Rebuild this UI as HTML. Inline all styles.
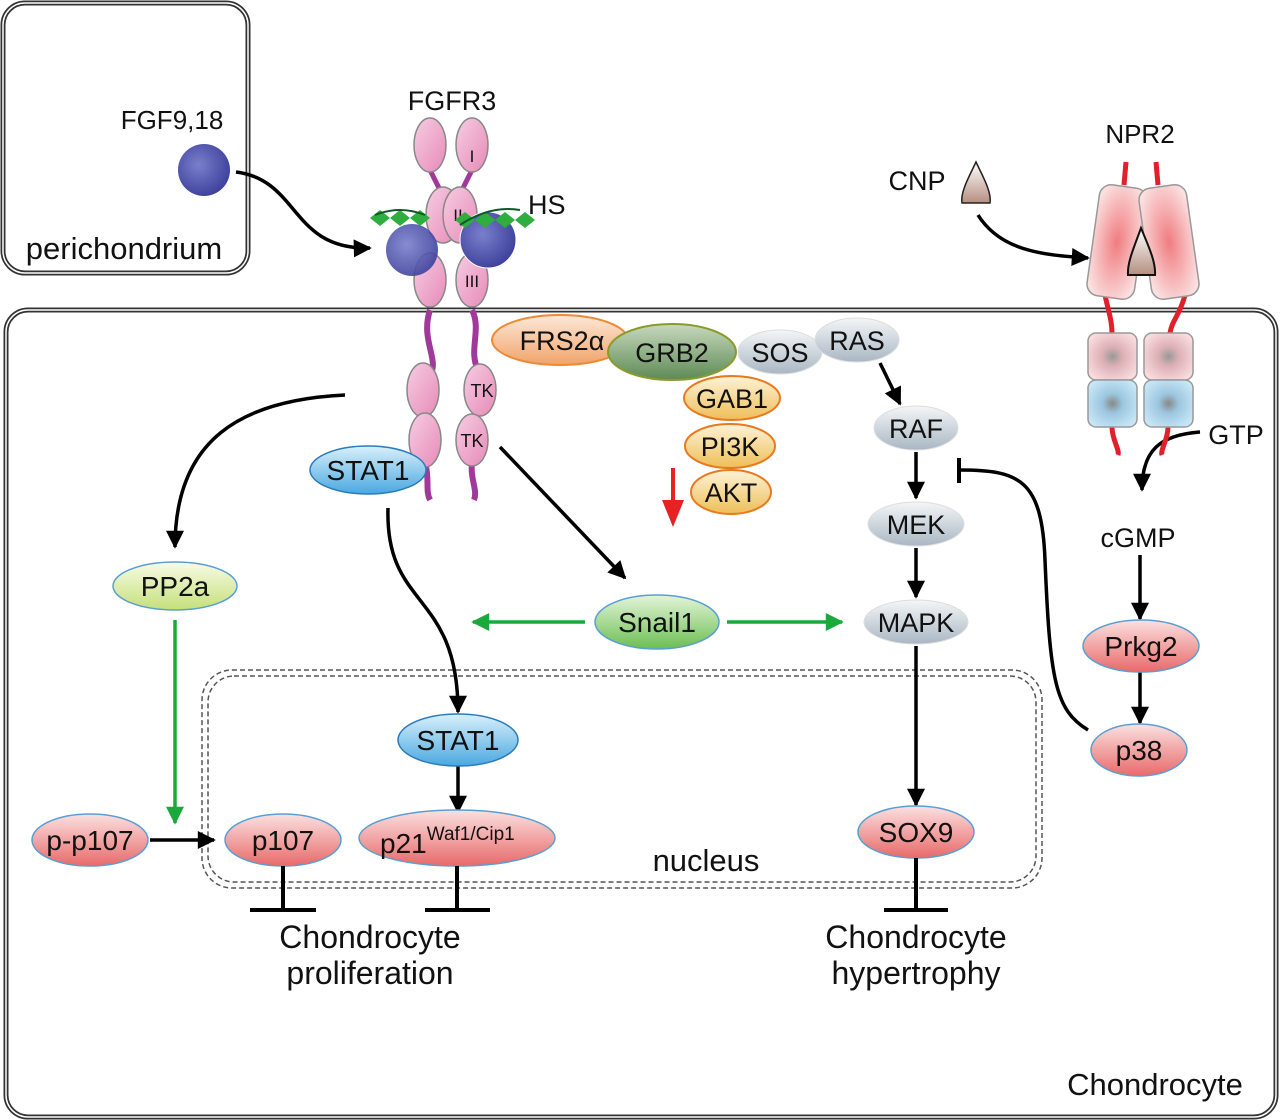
<!DOCTYPE html>
<html><head><meta charset="utf-8"><style>
html,body{margin:0;padding:0;background:#fff;}
svg{display:block;}
text{font-family:"Liberation Sans",sans-serif;fill:#111;}
</style></head><body>
<svg width="1280" height="1120" viewBox="0 0 1280 1120" xmlns="http://www.w3.org/2000/svg">
<defs>
<linearGradient id="gr" x1="0" y1="0" x2="0" y2="1"><stop offset="0" stop-color="#fbe0e0"/><stop offset="1" stop-color="#e86a6a"/></linearGradient>
<linearGradient id="gb" x1="0" y1="0" x2="0" y2="1"><stop offset="0" stop-color="#d8f0fb"/><stop offset="1" stop-color="#4aa8e0"/></linearGradient>
<linearGradient id="gg" x1="0" y1="0" x2="0" y2="1"><stop offset="0" stop-color="#f4f6f8"/><stop offset="1" stop-color="#a9b7c3"/></linearGradient>
<linearGradient id="gy" x1="0" y1="0" x2="0" y2="1"><stop offset="0" stop-color="#fdf3d6"/><stop offset="1" stop-color="#eebe58"/></linearGradient>
<linearGradient id="go" x1="0" y1="0" x2="0" y2="1"><stop offset="0" stop-color="#fde8d8"/><stop offset="1" stop-color="#f0a36a"/></linearGradient>
<linearGradient id="ggr" x1="0" y1="0" x2="0" y2="1"><stop offset="0" stop-color="#c7d9bd"/><stop offset="1" stop-color="#5d8a55"/></linearGradient>
<linearGradient id="gsn" x1="0" y1="0" x2="0" y2="1"><stop offset="0" stop-color="#e3f5d8"/><stop offset="1" stop-color="#6cbf53"/></linearGradient>
<linearGradient id="gpp" x1="0" y1="0" x2="0" y2="1"><stop offset="0" stop-color="#f8fbe6"/><stop offset="1" stop-color="#c5e07a"/></linearGradient>
<linearGradient id="gp" x1="0" y1="0" x2="1" y2="1"><stop offset="0" stop-color="#f6cde2"/><stop offset="1" stop-color="#e78ab8"/></linearGradient>
<linearGradient id="gcnp" x1="0" y1="0" x2="0" y2="1"><stop offset="0" stop-color="#fff"/><stop offset="1" stop-color="#b58e80"/></linearGradient>
<radialGradient id="ball" cx="0.4" cy="0.4" r="0.6"><stop offset="0" stop-color="#7a7fcc"/><stop offset="1" stop-color="#40449e"/></radialGradient>
<radialGradient id="npr" cx="0.5" cy="0.5" r="0.6"><stop offset="0" stop-color="#f07c80"/><stop offset="1" stop-color="#fbe0e0"/></radialGradient>
<radialGradient id="bp" cx="0.5" cy="0.5" r="0.6"><stop offset="0" stop-color="#999"/><stop offset="0.35" stop-color="#dcb0b4"/><stop offset="1" stop-color="#fbdde0"/></radialGradient>
<radialGradient id="bbl" cx="0.5" cy="0.5" r="0.6"><stop offset="0" stop-color="#888"/><stop offset="0.35" stop-color="#9cc6df"/><stop offset="1" stop-color="#c9e8f8"/></radialGradient>
<marker id="ab" viewBox="0 0 10 10" refX="9" refY="5" markerWidth="22" markerHeight="18" orient="auto" markerUnits="userSpaceOnUse"><path d="M0,0 L10,5 L0,10 Z" fill="#000"/></marker>
<marker id="ag" viewBox="0 0 10 10" refX="9" refY="5" markerWidth="22" markerHeight="18" orient="auto" markerUnits="userSpaceOnUse"><path d="M0,0 L10,5 L0,10 Z" fill="#1aaa3c"/></marker>
</defs>

<rect x="3" y="3" width="245" height="270" rx="22" fill="none" stroke="#333" stroke-width="5"/>
<rect x="3" y="3" width="245" height="270" rx="22" fill="none" stroke="#fff" stroke-width="1.5"/>
<rect x="6" y="310" width="1270" height="807" rx="22" fill="none" stroke="#333" stroke-width="5"/>
<rect x="6" y="310" width="1270" height="807" rx="22" fill="none" stroke="#fff" stroke-width="1.5"/>
<text x="124" y="259" font-size="31" text-anchor="middle">perichondrium</text>
<text x="1155" y="1095" font-size="31" text-anchor="middle">Chondrocyte</text>

<rect x="202" y="670" width="840" height="218" rx="30" fill="none" stroke="#555" stroke-width="1.5" stroke-dasharray="5,3"/>
<rect x="208" y="676" width="828" height="206" rx="26" fill="none" stroke="#555" stroke-width="1.5" stroke-dasharray="5,3"/>
<text x="706" y="871" font-size="31" text-anchor="middle">nucleus</text>

<text x="172" y="129" font-size="26" text-anchor="middle">FGF9,18</text>
<circle cx="204" cy="170" r="26" fill="url(#ball)"/>
<path d="M236,172 C300,180 290,250 370,248" fill="none" stroke="#000" stroke-width="3.5" marker-end="url(#ab)"/>

<text x="452" y="110" font-size="27" text-anchor="middle">FGFR3</text>
<path d="M430,310 C420,340 440,360 430,375 M423,410 L425,418 M425,462 C430,480 425,490 430,500" fill="none" stroke="#a0399a" stroke-width="6"/>
<path d="M472,310 C482,330 468,350 478,370 M478,408 L472,420 M472,462 C470,480 478,490 474,500" fill="none" stroke="#a0399a" stroke-width="6"/>
<path d="M430,170 L440,190 M472,170 L462,190" stroke="#a0399a" stroke-width="5"/>
<g stroke="#888" stroke-width="1.5" fill="url(#gp)">
<ellipse cx="430" cy="145" rx="16" ry="27"/>
<ellipse cx="472" cy="145" rx="16" ry="27"/>
<ellipse cx="430" cy="280" rx="16" ry="27"/>
<ellipse cx="472" cy="280" rx="16" ry="27"/>
<ellipse cx="443" cy="215" rx="17" ry="28"/>
<ellipse cx="460" cy="215" rx="17" ry="28"/>
<ellipse cx="423" cy="390" rx="16" ry="27"/>
<ellipse cx="480" cy="390" rx="16" ry="26"/>
<ellipse cx="425" cy="440" rx="16" ry="27"/>
<ellipse cx="472" cy="440" rx="16" ry="26"/>
</g>
<text x="472" y="162" font-size="17" text-anchor="middle">I</text>
<text x="458" y="221" font-size="17" text-anchor="middle">II</text>
<text x="472" y="287" font-size="17" text-anchor="middle">III</text>
<text x="482" y="397" font-size="18" text-anchor="middle">TK</text>
<text x="472" y="447" font-size="18" text-anchor="middle">TK</text>
<circle cx="412" cy="250" r="26" fill="url(#ball)" opacity="0.9"/>
<circle cx="488" cy="240" r="28" fill="url(#ball)" stroke="#fff" stroke-width="1"/>
<g fill="#2fae3f">
<path d="M370,218 l10,-8 l10,8 l10,-8 l10,8 l10,-8 l10,8 l-10,8 l-10,-8 l-10,8 l-10,-8 l-10,8 l-10,-8z"/>
<path d="M455,220 l10,-8 l10,8 l10,-8 l10,8 l10,-8 l10,8 l10,-8 l10,8 l-10,8 l-10,-8 l-10,8 l-10,-8 l-10,8 l-10,-8 l-10,8z"/>
</g>
<path d="M375,215 Q400,205 425,215 M460,225 Q490,205 520,210" fill="none" stroke="#0b5b2a" stroke-width="2"/>
<text x="528" y="214" font-size="27">HS</text>

<ellipse cx="560" cy="340" rx="68" ry="25" fill="url(#go)" stroke="#ee8a33" stroke-width="2"/>
<text x="562" y="350" font-size="27" text-anchor="middle">FRS2α</text>
<ellipse cx="780" cy="352" rx="42" ry="22" fill="url(#gg)" stroke="#ddd" stroke-width="1"/>
<text x="780" y="362" font-size="27" text-anchor="middle">SOS</text>
<ellipse cx="672" cy="352" rx="64" ry="28" fill="url(#ggr)" stroke="#8a9b2a" stroke-width="2"/>
<text x="672" y="362" font-size="27" text-anchor="middle">GRB2</text>
<ellipse cx="857" cy="340" rx="42" ry="22" fill="url(#gg)" stroke="#ddd" stroke-width="1"/>
<text x="857" y="350" font-size="27" text-anchor="middle">RAS</text>
<g stroke="#e9791f" stroke-width="2" fill="url(#gy)">
<ellipse cx="732" cy="398" rx="48" ry="22"/>
<ellipse cx="730" cy="446" rx="45" ry="22"/>
<ellipse cx="731" cy="492" rx="40" ry="22"/>
</g>
<text x="732" y="408" font-size="27" text-anchor="middle">GAB1</text>
<text x="730" y="456" font-size="27" text-anchor="middle">PI3K</text>
<text x="731" y="502" font-size="27" text-anchor="middle">AKT</text>
<path d="M673,468 L673,505" stroke="#e62222" stroke-width="4"/>
<path d="M662,500 L684,500 L673,527 Z" fill="#e62222"/>

<g fill="url(#gg)" stroke="#ddd" stroke-width="1">
<ellipse cx="916" cy="428" rx="42" ry="22"/>
<ellipse cx="916" cy="524" rx="48" ry="22"/>
<ellipse cx="916" cy="622" rx="52" ry="22"/>
</g>
<text x="916" y="438" font-size="27" text-anchor="middle">RAF</text>
<text x="916" y="534" font-size="27" text-anchor="middle">MEK</text>
<text x="916" y="632" font-size="27" text-anchor="middle">MAPK</text>
<g stroke="#000" stroke-width="3.5" fill="none" marker-end="url(#ab)">
<path d="M880,363 L900,404"/>
<path d="M916,452 L916,498"/>
<path d="M916,548 L916,597"/>
<path d="M916,646 L916,805"/>
<path d="M345,395 C240,400 175,440 175,547"/>
<path d="M388,508 C385,610 458,590 458,712"/>
<path d="M500,447 L625,578"/>
<path d="M458,766 L458,812"/>
<path d="M150,840 L214,840"/>
<path d="M978,215 C1000,250 1040,255 1088,258"/>
<path d="M1200,432 C1160,435 1142,450 1142,490"/>
<path d="M1140,555 L1140,619"/>
<path d="M1140,672 L1140,723"/>
</g>
<path d="M1088,730 C1055,710 1050,680 1045,560 C1042,480 1020,470 960,470" fill="none" stroke="#000" stroke-width="3.5"/>
<path d="M959,458 L959,483" stroke="#000" stroke-width="4"/>

<g stroke="#1aaa3c" stroke-width="3.5" fill="none" marker-end="url(#ag)">
<path d="M585,622 L473,622"/>
<path d="M727,622 L842,622"/>
<path d="M175,620 L175,823"/>
</g>

<ellipse cx="368" cy="470" rx="58" ry="24" fill="url(#gb)" stroke="#2b7bbd" stroke-width="1.5"/>
<text x="368" y="480" font-size="28" text-anchor="middle">STAT1</text>
<ellipse cx="458" cy="740" rx="60" ry="26" fill="url(#gb)" stroke="#2b7bbd" stroke-width="1.5"/>
<text x="458" y="750" font-size="28" text-anchor="middle">STAT1</text>
<ellipse cx="175" cy="586" rx="62" ry="24" fill="url(#gpp)" stroke="#5a9fd4" stroke-width="1.5"/>
<text x="175" y="596" font-size="28" text-anchor="middle">PP2a</text>
<ellipse cx="657" cy="622" rx="62" ry="27" fill="url(#gsn)" stroke="#5a9fd4" stroke-width="1.5"/>
<text x="657" y="632" font-size="28" text-anchor="middle">Snail1</text>
<g fill="url(#gr)" stroke="#5a9fd4" stroke-width="1.5">
<ellipse cx="90" cy="840" rx="58" ry="26"/>
<ellipse cx="283" cy="840" rx="58" ry="26"/>
<ellipse cx="457" cy="838" rx="98" ry="28"/>
<ellipse cx="916" cy="832" rx="58" ry="26"/>
<ellipse cx="1141" cy="646" rx="58" ry="26"/>
<ellipse cx="1139" cy="750" rx="48" ry="26"/>
</g>
<text x="90" y="850" font-size="28" text-anchor="middle">p-p107</text>
<text x="283" y="850" font-size="28" text-anchor="middle">p107</text>
<text x="380" y="853" font-size="28">p21<tspan font-size="19" dy="-13">Waf1/Cip1</tspan></text>
<text x="916" y="842" font-size="28" text-anchor="middle">SOX9</text>
<text x="1141" y="656" font-size="28" text-anchor="middle">Prkg2</text>
<text x="1139" y="760" font-size="28" text-anchor="middle">p38</text>

<g stroke="#000" stroke-width="4">
<path d="M283,866 L283,910 M250,910 L316,910"/>
<path d="M457,866 L457,910 M425,910 L490,910"/>
<path d="M916,858 L916,910 M884,910 L948,910"/>
</g>
<text x="370" y="948" font-size="32" text-anchor="middle">Chondrocyte</text>
<text x="370" y="984" font-size="32" text-anchor="middle">proliferation</text>
<text x="916" y="948" font-size="32" text-anchor="middle">Chondrocyte</text>
<text x="916" y="984" font-size="32" text-anchor="middle">hypertrophy</text>

<text x="1140" y="143" font-size="26" text-anchor="middle">NPR2</text>
<text x="917" y="190" font-size="27" text-anchor="middle">CNP</text>
<path d="M976,162 C970,175 960,192 962,203 L990,203 C992,192 982,175 976,162 Z" fill="url(#gcnp)" stroke="#222" stroke-width="1.5"/>
<g stroke="#e0202a" stroke-width="5" fill="none">
<path d="M1126,162 L1124,185 M1156,162 L1158,185"/>
<path d="M1105,295 C1108,310 1112,320 1112,333 M1185,295 C1180,315 1172,320 1170,333"/>
<path d="M1112,427 C1112,440 1120,450 1118,455 M1168,427 C1168,440 1160,450 1162,455"/>
</g>
<rect x="1093" y="186" width="48" height="112" rx="12" fill="url(#npr)" stroke="#999" stroke-width="1.5" transform="rotate(8 1117 242)"/>
<rect x="1145" y="186" width="48" height="112" rx="12" fill="url(#npr)" stroke="#999" stroke-width="1.5" transform="rotate(-8 1169 242)"/>
<path d="M1141,228 C1135,245 1127,262 1128,275 L1155,275 C1156,262 1148,245 1141,228 Z" fill="url(#gcnp)" stroke="#111" stroke-width="2"/>
<rect x="1088" y="333" width="49" height="47" rx="8" fill="url(#bp)" stroke="#999" stroke-width="1.5"/>
<rect x="1144" y="333" width="49" height="47" rx="8" fill="url(#bp)" stroke="#999" stroke-width="1.5"/>
<rect x="1088" y="380" width="49" height="47" rx="8" fill="url(#bbl)" stroke="#999" stroke-width="1.5"/>
<rect x="1144" y="380" width="49" height="47" rx="8" fill="url(#bbl)" stroke="#999" stroke-width="1.5"/>
<text x="1236" y="444" font-size="27" text-anchor="middle">GTP</text>
<text x="1138" y="547" font-size="27" text-anchor="middle">cGMP</text>
</svg>
</body></html>
